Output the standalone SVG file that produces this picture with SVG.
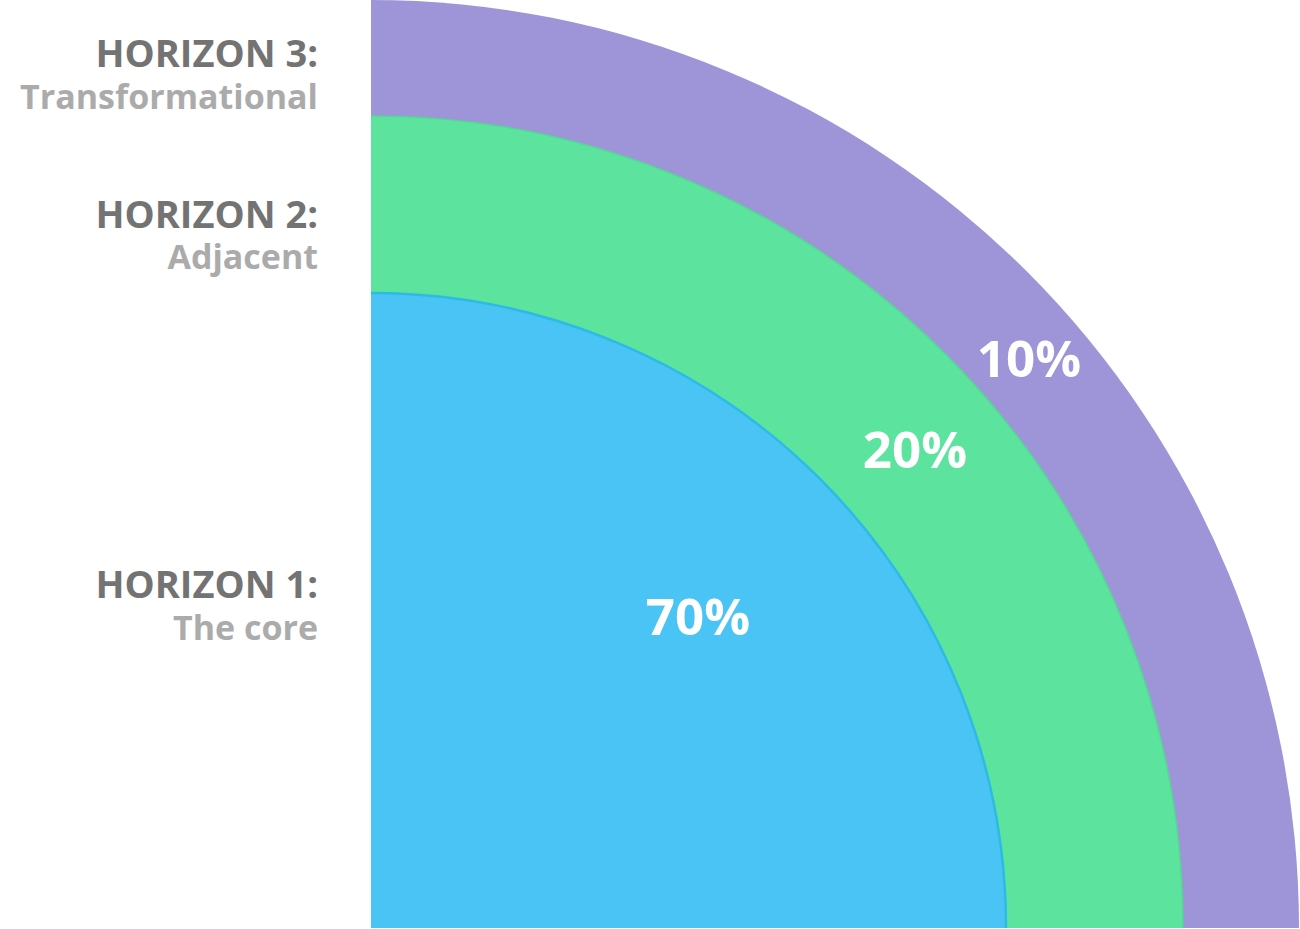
<svg xmlns="http://www.w3.org/2000/svg" width="1300" height="929" viewBox="0 0 1300 929">
<style>
.title{font-family:"Open Sans","Noto Sans",sans-serif;font-weight:700;font-size:38px;fill:#737373;text-anchor:end}
.sub{font-family:"Open Sans","Noto Sans",sans-serif;font-weight:700;font-size:34px;fill:#ababab;text-anchor:end}
.pct{font-family:"Open Sans","Noto Sans",sans-serif;font-weight:700;font-size:51px;fill:#ffffff;text-anchor:middle}
</style>
<rect width="1300" height="929" fill="#ffffff"/>
<g id="horizon3">
<path d="M371 928 L371 0 A928 928 0 0 1 1299 928 Z" fill="#9e95d9"/>
<text class="pct" x="1029" y="377">10%</text>
</g>
<g id="horizon2">
<path d="M371 928 L371 116 A812 812 0 0 1 1183 928 Z" fill="#5ce39d"/>
<path d="M371 116 A812 812 0 0 1 1183 928" fill="none" stroke="#54d894" stroke-width="1.5"/>
<text class="pct" x="915" y="468">20%</text>
</g>
<g id="horizon1">
<path d="M371 928 L371 293 A635 635 0 0 1 1006 928 Z" fill="#4ac3f5"/>
<path d="M371 293 A635 635 0 0 1 1006 928" fill="none" stroke="#2dbbe6" stroke-width="2.5"/>
<text class="pct" x="698" y="635">70%</text>
</g>
<g id="labels">
<text class="title" x="318" y="67">HORIZON 3:</text>
<text class="sub" x="318" y="109">Transformational</text>
<text class="title" x="318" y="228">HORIZON 2:</text>
<text class="sub" x="318" y="269">Adjacent</text>
<text class="title" x="318" y="598">HORIZON 1:</text>
<text class="sub" x="318" y="640">The core</text>
</g>
</svg>
